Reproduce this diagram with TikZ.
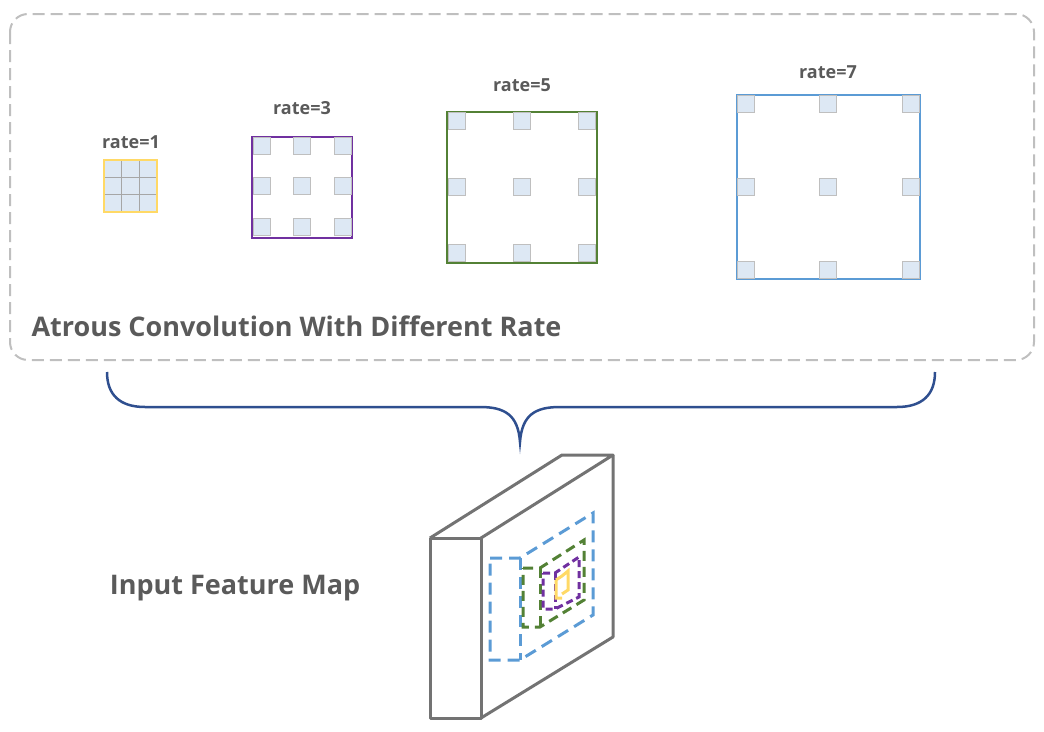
\documentclass[tikz,border=0pt]{standalone}
\usepackage{fontspec}
\setmainfont{Open Sans}
\begin{document}
\begin{tikzpicture}[x=1pt,y=-1pt,
  txt/.style={font=\fontsize{18}{20}\selectfont\bfseries\color{tgray}},
  big/.style={font=\fontsize{27}{32}\selectfont\bfseries\color{tgray}},
  cell/.style={fill=cellc,draw=black!25,line width=0.6pt},
  ker/.style={line width=2.8pt},
  fm/.style={draw=black!55,line width=3pt,line join=round},
  dsh/.style={line width=3pt,dash pattern=on 12pt off 7pt}]
\definecolor{tgray}{HTML}{5A5A5A}
\definecolor{cellc}{HTML}{DDE8F4}
\definecolor{cpur}{HTML}{7030A0}
\definecolor{cgrn}{HTML}{538135}
\definecolor{cblu}{HTML}{5B9BD5}
\definecolor{cyel}{HTML}{FFD966}
\definecolor{cbrace}{HTML}{2F4F8F}
\useasboundingbox (0,0) rectangle (1044,731);
% outer dashed box
\draw[black!25,line width=2pt,dash pattern=on 12pt off 6pt,rounded corners=18pt] (10,14) rectangle (1034,360);
\node[big,anchor=west] (title) at (28,326) {Atrous Convolution With Different Rate};
% rate=1
\node[txt] (l1) at (131,142) {rate=1};
\foreach \i in {0,1,2}{\foreach \j in {0,1,2}{
  \fill[cellc] (104+\i*17.67,160+\j*17.33) rectangle ++(17.67,17.33);}}
\foreach \i in {1,2}{\draw[black!35,line width=0.8pt] (104+\i*17.67,160) -- ++(0,52);
  \draw[black!35,line width=0.8pt] (104,160+\i*17.33) -- ++(53,0);}
\draw[cyel,line width=2pt] (104,160) rectangle (157,212);
% rate=3
\node[txt] (l3) at (302,108) {rate=3};
\draw[cpur,ker] (252,137) rectangle (352,238);
\foreach \x in {262,302,343}{\foreach \y in {146,186,227}{\draw[cell] (\x-8.5,\y-8.5) rectangle ++(17,17);}}
% rate=5
\node[txt] (l5) at (522,85) {rate=5};
\draw[cgrn,ker] (447,112) rectangle (597,263);
\foreach \x in {457,522,587}{\foreach \y in {121,187,253}{\draw[cell] (\x-8.5,\y-8.5) rectangle ++(17,17);}}
% rate=7
\node[txt] (l7) at (828,72) {rate=7};
\draw[cblu,ker] (737,95) rectangle (920,279);
\foreach \x in {746,828,911}{\foreach \y in {104,187,270}{\draw[cell] (\x-8.5,\y-8.5) rectangle ++(17,17);}}
% brace
\coordinate (bl) at (107,372);
\coordinate (br) at (935,372);
\coordinate (bt) at (520,442);
\draw[cbrace,line width=2.5pt] (bl) .. controls (107,395) and (120,407) .. (145,407) -- (480,407)
  .. controls (505,407) and (518,415) .. (bt) .. controls (522,415) and (535,407) .. (560,407)
  -- (897,407) .. controls (922,407) and (935,395) .. (br);
% feature map
\draw[fm] (430,538) rectangle (481,718);
\draw[fm] (430,538) -- (562,455) -- (613,455) -- (481,538);
\draw[fm] (613,455) -- (613,637) -- (481,718);
\node[big,anchor=center] (ifm) at (235,588) {Input Feature Map};
% dashed kernels
\newcommand{\dkern}[8]{\draw[#8,dsh] (#1,#4) -- (#2,#4) -- (#3,#5) -- (#3,#6) -- (#2,#7) -- (#1,#7) -- cycle;
  \draw[#8,dsh] (#2,#4) -- (#2,#7);}
\dkern{490}{520}{593}{558}{513}{615}{660}{cblu}
\begin{scope}[dsh/.append style={dash pattern=on 10pt off 6pt}]
\dkern{523}{540}{584}{568}{540}{600}{627}{cgrn}
\end{scope}
\begin{scope}[dsh/.append style={dash pattern=on 7pt off 4pt}]
\dkern{543}{555}{579}{573}{557}{597}{609}{cpur}
\end{scope}
\draw[cyel,line width=3pt] (556,580) -- (556,598) -- (562,598) (556,580) -- (562,576) -- (568,571) -- (568,590) -- (562,594);
\end{tikzpicture}
\end{document}
